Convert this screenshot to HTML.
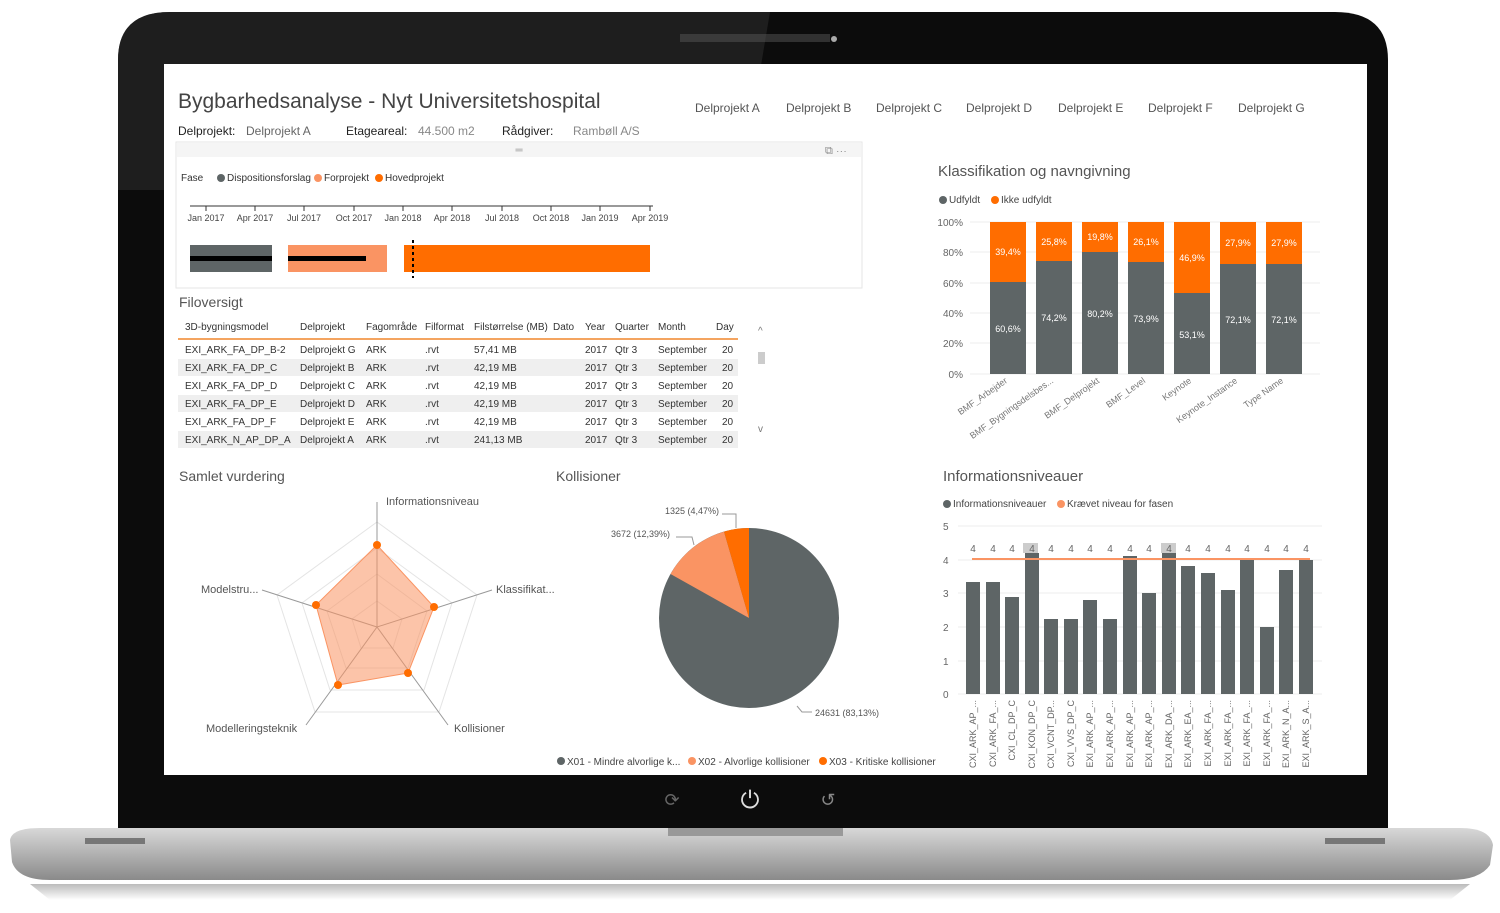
<!DOCTYPE html>
<html><head><meta charset="utf-8"><style>
body{margin:0;width:1500px;height:908px;background:#fff;overflow:hidden;font-family:"Liberation Sans",sans-serif}
svg text{font-family:"Liberation Sans",sans-serif}
</style></head><body>
<svg width="1500" height="908" viewBox="0 0 1500 908" xmlns="http://www.w3.org/2000/svg">
<defs>
<linearGradient id="base" x1="0" y1="0" x2="0" y2="1"><stop offset="0" stop-color="#d8d8d8"/><stop offset="0.4" stop-color="#b9b9b9"/><stop offset="1" stop-color="#8a8a8a"/></linearGradient>
<linearGradient id="refl" x1="0" y1="0" x2="0" y2="1"><stop offset="0" stop-color="#bbb"/><stop offset="1" stop-color="#fff"/></linearGradient>
</defs>
<!-- laptop frame -->
<path d="M118 60 Q118 12 170 12 L1335 12 Q1388 12 1388 60 L1388 830 L118 830 Z" fill="#0c0c0c"/>
<path d="M118 60 Q118 12 170 12 L770 12 L740 190 L118 190 Z" fill="#262626" opacity="0.7"/>
<rect x="680" y="34" width="150" height="8" fill="#555" opacity="0.5"/>
<circle cx="834" cy="39" r="3" fill="#aaa"/>
<path d="M10 840 Q12 828 40 828 L1460 828 Q1490 828 1493 845 L1490 865 Q1480 880 1450 880 L50 880 Q18 880 12 862 Z" fill="url(#base)"/>
<rect x="85" y="838" width="60" height="6" fill="#777"/>
<rect x="1325" y="838" width="60" height="6" fill="#777"/>
<rect x="668" y="828" width="175" height="8" fill="#999"/>
<path d="M30 884 L1470 884 L1450 900 L50 900 Z" fill="url(#refl)"/>
<text x="672" y="806" fill="#666" font-size="18" text-anchor="middle">⟳</text>
<text x="750" y="808" fill="#ddd" font-size="24" text-anchor="middle">⏻</text>
<text x="828" y="806" fill="#888" font-size="18" text-anchor="middle">↺</text>
<!-- screen -->
<rect x="164" y="64" width="1203" height="711" fill="#fff"/>
<text x="178" y="108" font-size="21" fill="#444">Bygbarhedsanalyse - Nyt Universitetshospital</text>
<g font-size="12" fill="#555">
<text x="695" y="112">Delprojekt A</text><text x="786" y="112">Delprojekt B</text><text x="876" y="112">Delprojekt C</text><text x="966" y="112">Delprojekt D</text><text x="1058" y="112">Delprojekt E</text><text x="1148" y="112">Delprojekt F</text><text x="1238" y="112">Delprojekt G</text>
</g>
<g font-size="12"><text x="178" y="135" fill="#222">Delprojekt:</text><text x="246" y="135" fill="#666">Delprojekt A</text>
<text x="346" y="135" fill="#222">Etageareal:</text><text x="418" y="135" fill="#888">44.500 m2</text>
<text x="502" y="135" fill="#222">Rådgiver:</text><text x="573" y="135" fill="#888">Rambøll A/S</text></g>
<!-- gantt -->
<rect x="176" y="142" width="686" height="146" fill="none" stroke="#e6e6e6"/>
<rect x="177" y="143" width="684" height="14" fill="#f5f5f5"/>
<text x="519" y="153" font-size="10" fill="#999" text-anchor="middle">═</text>
<text x="825" y="154" font-size="11" fill="#888">⧉ ⋯</text>
<g font-size="10" fill="#333"><text x="181" y="181">Fase</text>
<circle cx="221" cy="178" r="4" fill="#5e6566"/><text x="227" y="181">Dispositionsforslag</text>
<circle cx="318" cy="178" r="4" fill="#fa9463"/><text x="324" y="181">Forprojekt</text>
<circle cx="379" cy="178" r="4" fill="#ff6d00"/><text x="385" y="181">Hovedprojekt</text></g>
<line x1="190" y1="206" x2="653" y2="206" stroke="#333"/>
<g font-size="9" fill="#444" text-anchor="middle">
<text x="206" y="221">Jan 2017</text><text x="255" y="221">Apr 2017</text><text x="304" y="221">Jul 2017</text><text x="354" y="221">Oct 2017</text><text x="403" y="221">Jan 2018</text><text x="452" y="221">Apr 2018</text><text x="502" y="221">Jul 2018</text><text x="551" y="221">Oct 2018</text><text x="600" y="221">Jan 2019</text><text x="650" y="221">Apr 2019</text></g>
<g stroke="#333"><line x1="206" y1="206" x2="206" y2="211"/><line x1="255" y1="206" x2="255" y2="211"/><line x1="304" y1="206" x2="304" y2="211"/><line x1="354" y1="206" x2="354" y2="211"/><line x1="403" y1="206" x2="403" y2="211"/><line x1="452" y1="206" x2="452" y2="211"/><line x1="502" y1="206" x2="502" y2="211"/><line x1="551" y1="206" x2="551" y2="211"/><line x1="600" y1="206" x2="600" y2="211"/><line x1="650" y1="206" x2="650" y2="211"/></g>
<rect x="190" y="245" width="82" height="27" fill="#5e6566"/>
<rect x="190" y="256" width="82" height="5" fill="#000"/>
<rect x="288" y="245" width="99" height="27" fill="#fa9463"/>
<rect x="288" y="256" width="78" height="5" fill="#000"/>
<rect x="404" y="245" width="246" height="27" fill="#ff6d00"/>
<line x1="413" y1="240" x2="413" y2="278" stroke="#000" stroke-width="2" stroke-dasharray="3,3"/>
<!-- table -->
<text x="179" y="307" font-size="14" fill="#555">Filoversigt</text>
<g font-size="10" fill="#333">
<text x="185" y="330">3D-bygningsmodel</text><text x="300" y="330">Delprojekt</text><text x="366" y="330">Fagområde</text><text x="425" y="330">Filformat</text><text x="474" y="330">Filstørrelse (MB)</text><text x="553" y="330">Dato</text><text x="585" y="330">Year</text><text x="615" y="330">Quarter</text><text x="658" y="330">Month</text><text x="716" y="330">Day</text></g>
<line x1="178" y1="339" x2="738" y2="339" stroke="#f4a460" stroke-width="2"/>
<rect x="178" y="359" width="560" height="17" fill="#efefef"/><rect x="178" y="395" width="560" height="17" fill="#efefef"/><rect x="178" y="431" width="560" height="17" fill="#efefef"/>
<g font-size="10" fill="#333">
<g transform="translate(0,353)"><text x="185">EXI_ARK_FA_DP_B-2</text><text x="300">Delprojekt G</text><text x="366">ARK</text><text x="425">.rvt</text><text x="474">57,41 MB</text><text x="585">2017</text><text x="615">Qtr 3</text><text x="658">September</text><text x="722">20</text></g>
<g transform="translate(0,371)"><text x="185">EXI_ARK_FA_DP_C</text><text x="300">Delprojekt B</text><text x="366">ARK</text><text x="425">.rvt</text><text x="474">42,19 MB</text><text x="585">2017</text><text x="615">Qtr 3</text><text x="658">September</text><text x="722">20</text></g>
<g transform="translate(0,389)"><text x="185">EXI_ARK_FA_DP_D</text><text x="300">Delprojekt C</text><text x="366">ARK</text><text x="425">.rvt</text><text x="474">42,19 MB</text><text x="585">2017</text><text x="615">Qtr 3</text><text x="658">September</text><text x="722">20</text></g>
<g transform="translate(0,407)"><text x="185">EXI_ARK_FA_DP_E</text><text x="300">Delprojekt D</text><text x="366">ARK</text><text x="425">.rvt</text><text x="474">42,19 MB</text><text x="585">2017</text><text x="615">Qtr 3</text><text x="658">September</text><text x="722">20</text></g>
<g transform="translate(0,425)"><text x="185">EXI_ARK_FA_DP_F</text><text x="300">Delprojekt E</text><text x="366">ARK</text><text x="425">.rvt</text><text x="474">42,19 MB</text><text x="585">2017</text><text x="615">Qtr 3</text><text x="658">September</text><text x="722">20</text></g>
<g transform="translate(0,443)"><text x="185">EXI_ARK_N_AP_DP_A</text><text x="300">Delprojekt A</text><text x="366">ARK</text><text x="425">.rvt</text><text x="474">241,13 MB</text><text x="585">2017</text><text x="615">Qtr 3</text><text x="658">September</text><text x="722">20</text></g>
</g>
<rect x="758" y="352" width="7" height="12" fill="#ccc"/>
<text x="758" y="334" font-size="10" fill="#777">^</text><text x="758" y="432" font-size="10" fill="#777">v</text>
<!-- stacked bar -->
<text x="938" y="176" font-size="15" fill="#555">Klassifikation og navngivning</text>
<circle cx="943" cy="200" r="4" fill="#5e6566"/><text x="949" y="203" font-size="10" fill="#444">Udfyldt</text>
<circle cx="995" cy="200" r="4" fill="#ff6d00"/><text x="1001" y="203" font-size="10" fill="#444">Ikke udfyldt</text>
<g font-size="10" fill="#666" text-anchor="end"><text x="963" y="226">100%</text><text x="963" y="256">80%</text><text x="963" y="287">60%</text><text x="963" y="317">40%</text><text x="963" y="347">20%</text><text x="963" y="378">0%</text></g>
<g stroke="#eee"><line x1="970" y1="222" x2="1320" y2="222"/><line x1="970" y1="252" x2="1320" y2="252"/><line x1="970" y1="283" x2="1320" y2="283"/><line x1="970" y1="313" x2="1320" y2="313"/><line x1="970" y1="343" x2="1320" y2="343"/><line x1="970" y1="374" x2="1320" y2="374"/></g>
<g font-size="9" fill="#fff" text-anchor="middle">
<rect x="990" y="222" width="36" height="60" fill="#ff6d00"/><rect x="990" y="282" width="36" height="92" fill="#5e6566"/><text x="1008" y="255">39,4%</text><text x="1008" y="332">60,6%</text>
<rect x="1036" y="222" width="36" height="39" fill="#ff6d00"/><rect x="1036" y="261" width="36" height="113" fill="#5e6566"/><text x="1054" y="245">25,8%</text><text x="1054" y="321">74,2%</text>
<rect x="1082" y="222" width="36" height="30" fill="#ff6d00"/><rect x="1082" y="252" width="36" height="122" fill="#5e6566"/><text x="1100" y="240">19,8%</text><text x="1100" y="317">80,2%</text>
<rect x="1128" y="222" width="36" height="40" fill="#ff6d00"/><rect x="1128" y="262" width="36" height="112" fill="#5e6566"/><text x="1146" y="245">26,1%</text><text x="1146" y="322">73,9%</text>
<rect x="1174" y="222" width="36" height="71" fill="#ff6d00"/><rect x="1174" y="293" width="36" height="81" fill="#5e6566"/><text x="1192" y="261">46,9%</text><text x="1192" y="338">53,1%</text>
<rect x="1220" y="222" width="36" height="42" fill="#ff6d00"/><rect x="1220" y="264" width="36" height="110" fill="#5e6566"/><text x="1238" y="246">27,9%</text><text x="1238" y="323">72,1%</text>
<rect x="1266" y="222" width="36" height="42" fill="#ff6d00"/><rect x="1266" y="264" width="36" height="110" fill="#5e6566"/><text x="1284" y="246">27,9%</text><text x="1284" y="323">72,1%</text>
</g>
<g font-size="9" fill="#777" text-anchor="end">
<text transform="translate(1008,382) rotate(-35)">BMF_Arbejder</text>
<text transform="translate(1054,382) rotate(-35)">BMF_Bygningsdelsbes...</text>
<text transform="translate(1100,382) rotate(-35)">BMF_Delprojekt</text>
<text transform="translate(1146,382) rotate(-35)">BMF_Level</text>
<text transform="translate(1192,382) rotate(-35)">Keynote</text>
<text transform="translate(1238,382) rotate(-35)">Keynote_Instance</text>
<text transform="translate(1284,382) rotate(-35)">Type Name</text></g>
<!-- radar -->
<text x="179" y="481" font-size="14" fill="#555">Samlet vurdering</text>
<g fill="none" stroke="#e4e4e4">
<polygon points="377,522 477,595 439,712 315,712 277,595"/>
<polygon points="377,548 452,603 424,690 330,690 302,603"/>
<polygon points="377,574 427,611 408,668 346,668 327,611"/>
<polygon points="377,601 402,619 393,648 361,648 352,619"/>
</g>
<g stroke="#999"><line x1="377" y1="627" x2="377" y2="502"/><line x1="377" y1="627" x2="492" y2="590"/><line x1="377" y1="627" x2="448" y2="725"/><line x1="377" y1="627" x2="306" y2="725"/><line x1="377" y1="627" x2="262" y2="590"/></g>
<polygon points="377,545 434,607 408,673 338,685 316,605" fill="#fa9463" fill-opacity="0.55" stroke="#fa9463"/>
<g fill="#ff6d00"><circle cx="377" cy="545" r="4"/><circle cx="434" cy="607" r="4"/><circle cx="408" cy="673" r="4"/><circle cx="338" cy="685" r="4"/><circle cx="316" cy="605" r="4"/></g>
<g font-size="11" fill="#555"><text x="386" y="505">Informationsniveau</text><text x="496" y="593">Klassifikat...</text><text x="454" y="732">Kollisioner</text><text x="206" y="732">Modelleringsteknik</text><text x="201" y="593">Modelstru...</text></g>
<!-- pie -->
<text x="556" y="481" font-size="14" fill="#555">Kollisioner</text>
<circle cx="749" cy="618" r="90" fill="#5e6566"/>
<path d="M749 618 L670.5 574 A90 90 0 0 1 724 531.6 Z" fill="#fa9463"/>
<path d="M749 618 L724 531.6 A90 90 0 0 1 749 528 Z" fill="#ff6d00"/>
<g font-size="9" fill="#555"><text x="665" y="514">1325 (4,47%)</text><text x="611" y="537">3672 (12,39%)</text><text x="815" y="716">24631 (83,13%)</text></g>
<g stroke="#999" fill="none"><polyline points="722,514 736,514 736,528"/><polyline points="676,537 692,537 694,545"/><polyline points="797,706 802,712 812,712"/></g>
<g font-size="10" fill="#444"><circle cx="561" cy="761" r="4" fill="#5e6566"/><text x="567" y="765">X01 - Mindre alvorlige k...</text>
<circle cx="692" cy="761" r="4" fill="#fa9463"/><text x="698" y="765">X02 - Alvorlige kollisioner</text>
<circle cx="823" cy="761" r="4" fill="#ff6d00"/><text x="829" y="765">X03 - Kritiske kollisioner</text></g>
<!-- info bars -->
<text x="943" y="481" font-size="15" fill="#555">Informationsniveauer</text>
<circle cx="947" cy="504" r="4" fill="#5e6566"/><text x="953" y="507" font-size="10" fill="#444">Informationsniveauer</text>
<circle cx="1061" cy="504" r="4" fill="#fa9463"/><text x="1067" y="507" font-size="10" fill="#444">Krævet niveau for fasen</text>
<g font-size="10" fill="#666"><text x="943" y="530">5</text><text x="943" y="564">4</text><text x="943" y="597">3</text><text x="943" y="631">2</text><text x="943" y="665">1</text><text x="943" y="698">0</text></g>
<g stroke="#eee"><line x1="958" y1="526" x2="1322" y2="526"/><line x1="958" y1="560" x2="1322" y2="560"/><line x1="958" y1="593" x2="1322" y2="593"/><line x1="958" y1="627" x2="1322" y2="627"/><line x1="958" y1="661" x2="1322" y2="661"/><line x1="958" y1="694" x2="1322" y2="694"/></g>
<rect x="1023" y="543" width="15" height="10" fill="#ccc"/><rect x="1161" y="543" width="15" height="10" fill="#ccc"/>
<g fill="#5e6566">
<rect x="966" y="582" width="14" height="112"/><rect x="986" y="582" width="14" height="112"/><rect x="1005" y="597" width="14" height="97"/><rect x="1025" y="553" width="14" height="141"/><rect x="1044" y="619" width="14" height="75"/><rect x="1064" y="619" width="14" height="75"/><rect x="1083" y="600" width="14" height="94"/><rect x="1103" y="619" width="14" height="75"/><rect x="1123" y="556" width="14" height="138"/><rect x="1142" y="593" width="14" height="101"/><rect x="1162" y="553" width="14" height="141"/><rect x="1181" y="566" width="14" height="128"/><rect x="1201" y="573" width="14" height="121"/><rect x="1221" y="590" width="14" height="104"/><rect x="1240" y="560" width="14" height="134"/><rect x="1260" y="627" width="14" height="67"/><rect x="1279" y="570" width="14" height="124"/><rect x="1299" y="560" width="14" height="134"/>
</g>
<line x1="972" y1="559" x2="1310" y2="559" stroke="#fa9463" stroke-width="2"/>
<g font-size="10" fill="#666" text-anchor="middle">
<text x="973" y="552">4</text><text x="993" y="552">4</text><text x="1012" y="552">4</text><text x="1032" y="552">4</text><text x="1051" y="552">4</text><text x="1071" y="552">4</text><text x="1090" y="552">4</text><text x="1110" y="552">4</text><text x="1130" y="552">4</text><text x="1149" y="552">4</text><text x="1169" y="552">4</text><text x="1188" y="552">4</text><text x="1208" y="552">4</text><text x="1228" y="552">4</text><text x="1247" y="552">4</text><text x="1267" y="552">4</text><text x="1286" y="552">4</text><text x="1306" y="552">4</text></g>
<g font-size="9" fill="#666" text-anchor="end">
<text transform="translate(976,700) rotate(-90)">CXI_ARK_AP_...</text><text transform="translate(996,700) rotate(-90)">CXI_ARK_FA_...</text><text transform="translate(1015,700) rotate(-90)">CXI_CL_DP_C</text><text transform="translate(1035,700) rotate(-90)">CXI_KON_DP_C</text><text transform="translate(1054,700) rotate(-90)">CXI_VCNT_DP...</text><text transform="translate(1074,700) rotate(-90)">CXI_VVS_DP_C</text><text transform="translate(1093,700) rotate(-90)">EXI_ARK_AP_...</text><text transform="translate(1113,700) rotate(-90)">EXI_ARK_AP_...</text><text transform="translate(1133,700) rotate(-90)">EXI_ARK_AP_...</text><text transform="translate(1152,700) rotate(-90)">EXI_ARK_AP_...</text><text transform="translate(1172,700) rotate(-90)">EXI_ARK_DA_...</text><text transform="translate(1191,700) rotate(-90)">EXI_ARK_EA_...</text><text transform="translate(1211,700) rotate(-90)">EXI_ARK_FA_...</text><text transform="translate(1231,700) rotate(-90)">EXI_ARK_FA_...</text><text transform="translate(1250,700) rotate(-90)">EXI_ARK_FA_...</text><text transform="translate(1270,700) rotate(-90)">EXI_ARK_FA_...</text><text transform="translate(1289,700) rotate(-90)">EXI_ARK_N_A...</text><text transform="translate(1309,700) rotate(-90)">EXI_ARK_S_A...</text></g>
</svg>
</body></html>
